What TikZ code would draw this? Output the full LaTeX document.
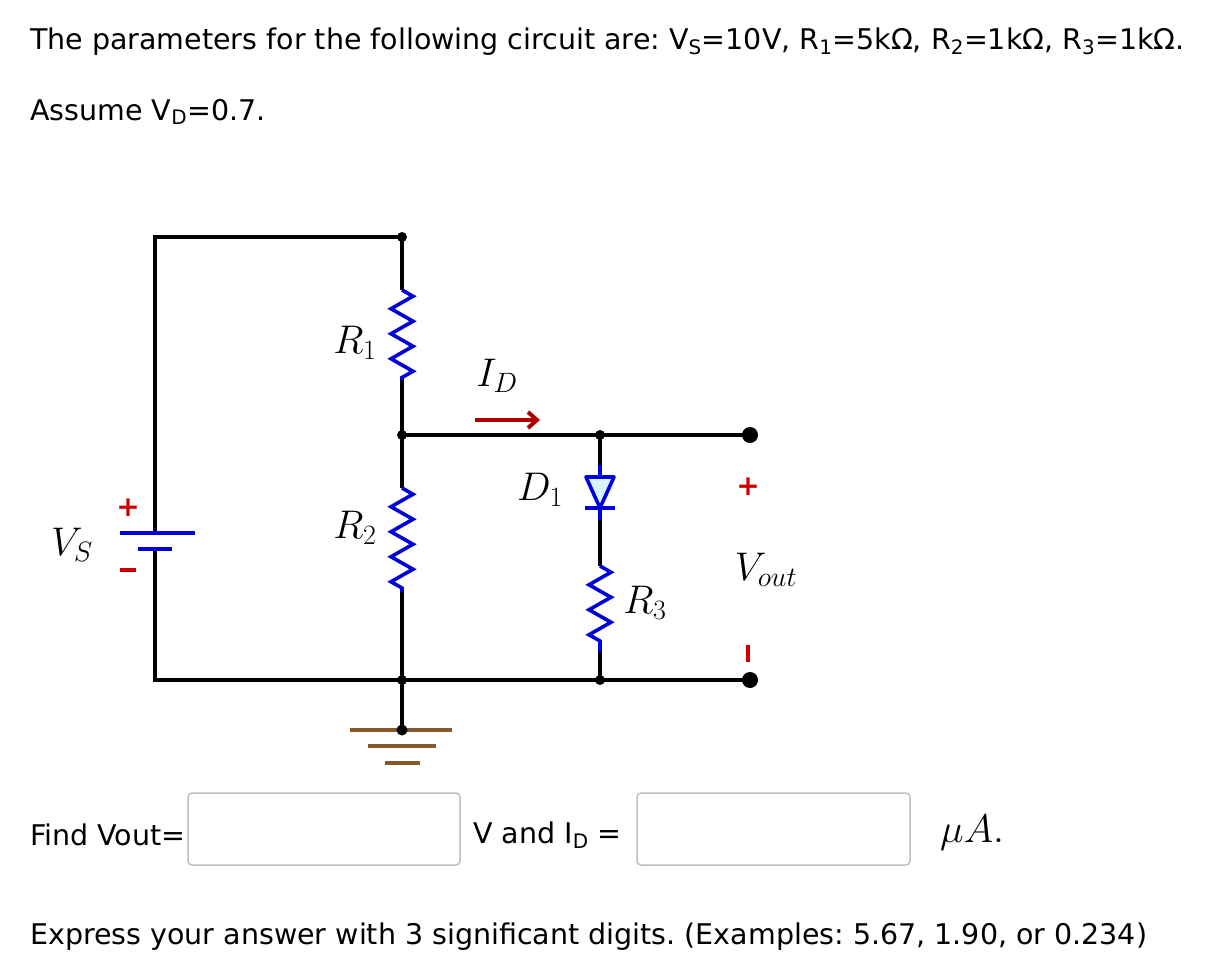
\RequirePackage{fix-cm}
\documentclass[tikz,border=0pt]{standalone}
\usepackage{fontspec}
\setmainfont{DejaVu Sans}
\frenchspacing
\usetikzlibrary{decorations.pathmorphing,arrows.meta}
\begin{document}
\begin{tikzpicture}[x=1pt,y=-1pt,
  wire/.style={line width=3.4pt,black},
  comp/.style={line width=3.6pt,blue!85!black},
  res/.style={comp,decorate,decoration={zigzag,segment length=25,amplitude=11}},
  dot/.style={circle,fill=black,inner sep=0pt,minimum size=10pt},
  term/.style={circle,fill=black,inner sep=0pt,minimum size=16pt},
  red mark/.style={text=red!80!black,font=\fontsize{28}{28}\selectfont\bfseries},
  lab/.style={font=\fontsize{40}{40}\selectfont},
  txt/.style={anchor=west,inner sep=0pt,font=\fontsize{28.5}{32}\selectfont},
  box/.style={draw=black!25,line width=1.5pt,rounded corners=4pt}]
\useasboundingbox (0,0) rectangle (1208,978);
\node[txt] (t1) at (30,42) {The parameters for the following circuit are: V\textsubscript{S}=10V, R\textsubscript{1}=5kΩ, R\textsubscript{2}=1kΩ, R\textsubscript{3}=1kΩ.};
\node[txt] (t2) at (30,112) {Assume V\textsubscript{D}=0.7.};
% coordinates
\coordinate (tl) at (155,237);
\coordinate (bl) at (155,680);
\node[dot] (ta) at (402,237) {};
\node[dot] (ma) at (402,435) {};
\node[dot] (ba) at (402,680) {};
\node[dot] (mb) at (600,435) {};
\node[dot] (bb) at (600,680) {};
\node[term] (mo) at (750,435) {};
\node[term] (bo) at (750,680) {};
\coordinate (bt) at (155,533);
\coordinate (bbm) at (155,549);
\coordinate (r1a) at (402,290); \coordinate (r1b) at (402,380);
\coordinate (r2a) at (402,488); \coordinate (r2b) at (402,592);
\coordinate (da) at (600,465); \coordinate (db) at (600,520);
\coordinate (r3a) at (600,566); \coordinate (r3b) at (600,652);
\coordinate (g0) at (402,730);
% wires
\draw[wire] (bt) -- (tl) -- (ta.center) -- (r1a);
\draw[wire] (r1b) -- (ma.center) -- (r2a);
\draw[wire] (r2b) -- (ba.center);
\draw[wire] (bbm) -- (bl) -- (ba.center) -- (bb.center) -- (bo.center);
\draw[wire] (ma.center) -- (mb.center) -- (mo.center);
\draw[wire] (mb.center) -- (da);
\draw[wire] (db) -- (r3a);
\draw[wire] (r3b) -- (bb.center);
\draw[wire] (ba.center) -- (g0);
% resistors
\draw[res] (r1a) -- (r1b);
\draw[res] (r2a) -- (r2b);
\draw[res] (r3a) -- (r3b);
% diode
\draw[comp] (da) -- (600,477);
\draw[comp,fill=cyan!15,line join=round] (586,477) -- (614,477) -- (600,508) -- cycle;
\draw[comp] (585,508) -- (615,508);
\draw[comp] (600,508) -- (db);
% battery
\draw[comp] (120,533) -- (195,533);
\draw[comp] (138,549) -- (172,549);
\node[red mark] (bp) at (128,508) {+};
\draw[line width=3.5pt,red!80!black] (120,570) -- (136,570);
% ground
\draw[line width=4pt,brown!70!black] (350,730) -- (452,730);
\draw[line width=4pt,brown!70!black] (368,746) -- (436,746);
\draw[line width=4pt,brown!70!black] (385,763) -- (420,763);
\node[dot,minimum size=11pt] (gd) at (g0) {};
% labels
\node[lab] (lvs) at (72,545) {$V_S$};
\node[lab] (lr1) at (355,343) {$R_1$};
\node[lab] (lr2) at (355,528) {$R_2$};
\node[lab] (lid) at (497,376) {$I_D$};
\node[lab] (ld1) at (540,490) {$D_1$};
\node[lab] (lr3) at (645,603) {$R_3$};
\node[lab] (lvo) at (766,570) {$V_{out}$};
\node[red mark] (op) at (748,487) {+};
\draw[line width=3.5pt,red!80!black] (748,645) -- (748,662);
\coordinate (ia) at (475,420); \coordinate (ib) at (540,420);
\draw[line width=4pt,red!70!black,-{Straight Barb[length=9pt,width=16pt]}] (ia) -- (ib);
% answer line
\node[txt] (f1) at (30,835) {Find Vout=};
\draw[box] (188,793) rectangle (460,865);
\node[txt] (f2) at (473,835) {V and I\textsubscript{D} =};
\draw[box] (637,793) rectangle (910,865);
\node[lab,anchor=west,inner sep=0pt] (ua) at (940,833) {$\mu A.$};
\node[txt] (t3) at (30,937) {Express your answer with 3 significant digits. (Examples: 5.67, 1.90, or 0.234)};
\end{tikzpicture}
\end{document}
